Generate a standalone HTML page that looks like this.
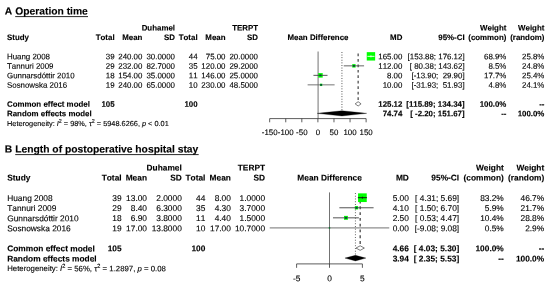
<!DOCTYPE html>
<html><head><meta charset="utf-8"><title>Forest plots</title>
<style>
html,body{margin:0;padding:0;background:#fff;}
svg{display:block;text-rendering:geometricPrecision;font-kerning:none;font-family:"Liberation Sans",sans-serif;fill:#000;}
text{stroke:#000;stroke-width:0.12px;}
</style></head>
<body>
<svg width="550" height="286" viewBox="0 0 550 286">
<rect width="550" height="286" fill="#fff"/>
<g font-size="7.9">
<text x="4.8" y="14.5" transform="rotate(0.03 4.8 14.5)" font-size="10.3" font-weight="bold" stroke="none">A</text>
<text x="15.2" y="14.5" transform="rotate(0.03 15.2 14.5)" font-size="10.3" font-weight="bold" stroke="none">Operation time</text>
<line x1="15.2" y1="16.6" x2="88.0" y2="16.6" stroke="#000" stroke-width="0.85"/>
<text x="175.0" y="30.5" transform="rotate(0.03 175.0 30.5)" text-anchor="end" font-weight="bold">Duhamel</text>
<text x="258" y="30.5" transform="rotate(0.03 258 30.5)" text-anchor="end" font-weight="bold">TERPT</text>
<text x="506.4" y="30.5" transform="rotate(0.03 506.4 30.5)" text-anchor="end" font-weight="bold">Weight</text>
<text x="544.4" y="30.5" transform="rotate(0.03 544.4 30.5)" text-anchor="end" font-weight="bold">Weight</text>
<text x="7" y="40.0" transform="rotate(0.03 7 40.0)" font-weight="bold">Study</text>
<text x="114.6" y="40.0" transform="rotate(0.03 114.6 40.0)" text-anchor="end" font-weight="bold">Total</text>
<text x="142.4" y="40.0" transform="rotate(0.03 142.4 40.0)" text-anchor="end" font-weight="bold">Mean</text>
<text x="175.0" y="40.0" transform="rotate(0.03 175.0 40.0)" text-anchor="end" font-weight="bold">SD</text>
<text x="197.6" y="40.0" transform="rotate(0.03 197.6 40.0)" text-anchor="end" font-weight="bold">Total</text>
<text x="225.5" y="40.0" transform="rotate(0.03 225.5 40.0)" text-anchor="end" font-weight="bold">Mean</text>
<text x="258" y="40.0" transform="rotate(0.03 258 40.0)" text-anchor="end" font-weight="bold">SD</text>
<text x="318" y="40.0" transform="rotate(0.03 318 40.0)" text-anchor="middle" font-weight="bold">Mean Difference</text>
<text x="402.4" y="40.0" transform="rotate(0.03 402.4 40.0)" text-anchor="end" font-weight="bold">MD</text>
<text x="464.6" y="40.0" transform="rotate(0.03 464.6 40.0)" text-anchor="end" font-weight="bold">95%-CI</text>
<text x="506.4" y="40.0" transform="rotate(0.03 506.4 40.0)" text-anchor="end" font-weight="bold">(common)</text>
<text x="544.4" y="40.0" transform="rotate(0.03 544.4 40.0)" text-anchor="end" font-weight="bold">(random)</text>
<text x="7" y="59.3" transform="rotate(0.03 7 59.3)">Huang 2008</text>
<text x="114.6" y="59.3" transform="rotate(0.03 114.6 59.3)" text-anchor="end" xml:space="preserve">39</text>
<text x="142.4" y="59.3" transform="rotate(0.03 142.4 59.3)" text-anchor="end" xml:space="preserve">240.00</text>
<text x="175.0" y="59.3" transform="rotate(0.03 175.0 59.3)" text-anchor="end" xml:space="preserve">30.0000</text>
<text x="197.6" y="59.3" transform="rotate(0.03 197.6 59.3)" text-anchor="end" xml:space="preserve">44</text>
<text x="225.5" y="59.3" transform="rotate(0.03 225.5 59.3)" text-anchor="end" xml:space="preserve"> 75.00</text>
<text x="258" y="59.3" transform="rotate(0.03 258 59.3)" text-anchor="end" xml:space="preserve">20.0000</text>
<text x="402.4" y="59.3" transform="rotate(0.03 402.4 59.3)" text-anchor="end" xml:space="preserve">165.00</text>
<text x="464.6" y="59.3" transform="rotate(0.03 464.6 59.3)" text-anchor="end" xml:space="preserve">[153.88; 176.12]</text>
<text x="506.4" y="59.3" transform="rotate(0.03 506.4 59.3)" text-anchor="end" xml:space="preserve">68.9%</text>
<text x="544.4" y="59.3" transform="rotate(0.03 544.4 59.3)" text-anchor="end" xml:space="preserve">25.8%</text>
<text x="7" y="68.8" transform="rotate(0.03 7 68.8)">Tannuri 2009</text>
<text x="114.6" y="68.8" transform="rotate(0.03 114.6 68.8)" text-anchor="end" xml:space="preserve">29</text>
<text x="142.4" y="68.8" transform="rotate(0.03 142.4 68.8)" text-anchor="end" xml:space="preserve">232.00</text>
<text x="175.0" y="68.8" transform="rotate(0.03 175.0 68.8)" text-anchor="end" xml:space="preserve">82.7000</text>
<text x="197.6" y="68.8" transform="rotate(0.03 197.6 68.8)" text-anchor="end" xml:space="preserve">35</text>
<text x="225.5" y="68.8" transform="rotate(0.03 225.5 68.8)" text-anchor="end" xml:space="preserve">120.00</text>
<text x="258" y="68.8" transform="rotate(0.03 258 68.8)" text-anchor="end" xml:space="preserve">29.2000</text>
<text x="402.4" y="68.8" transform="rotate(0.03 402.4 68.8)" text-anchor="end" xml:space="preserve">112.00</text>
<text x="464.6" y="68.8" transform="rotate(0.03 464.6 68.8)" text-anchor="end" xml:space="preserve">[ 80.38; 143.62]</text>
<text x="506.4" y="68.8" transform="rotate(0.03 506.4 68.8)" text-anchor="end" xml:space="preserve">8.5%</text>
<text x="544.4" y="68.8" transform="rotate(0.03 544.4 68.8)" text-anchor="end" xml:space="preserve">24.8%</text>
<text x="7" y="78.3" transform="rotate(0.03 7 78.3)">Gunnarsdóttir 2010</text>
<text x="114.6" y="78.3" transform="rotate(0.03 114.6 78.3)" text-anchor="end" xml:space="preserve">18</text>
<text x="142.4" y="78.3" transform="rotate(0.03 142.4 78.3)" text-anchor="end" xml:space="preserve">154.00</text>
<text x="175.0" y="78.3" transform="rotate(0.03 175.0 78.3)" text-anchor="end" xml:space="preserve">35.0000</text>
<text x="197.6" y="78.3" transform="rotate(0.03 197.6 78.3)" text-anchor="end" xml:space="preserve">11</text>
<text x="225.5" y="78.3" transform="rotate(0.03 225.5 78.3)" text-anchor="end" xml:space="preserve">146.00</text>
<text x="258" y="78.3" transform="rotate(0.03 258 78.3)" text-anchor="end" xml:space="preserve">25.0000</text>
<text x="402.4" y="78.3" transform="rotate(0.03 402.4 78.3)" text-anchor="end" xml:space="preserve">8.00</text>
<text x="464.6" y="78.3" transform="rotate(0.03 464.6 78.3)" text-anchor="end" xml:space="preserve">[-13.90;  29.90]</text>
<text x="506.4" y="78.3" transform="rotate(0.03 506.4 78.3)" text-anchor="end" xml:space="preserve">17.7%</text>
<text x="544.4" y="78.3" transform="rotate(0.03 544.4 78.3)" text-anchor="end" xml:space="preserve">25.4%</text>
<text x="7" y="87.8" transform="rotate(0.03 7 87.8)">Sosnowska 2016</text>
<text x="114.6" y="87.8" transform="rotate(0.03 114.6 87.8)" text-anchor="end" xml:space="preserve">19</text>
<text x="142.4" y="87.8" transform="rotate(0.03 142.4 87.8)" text-anchor="end" xml:space="preserve">240.00</text>
<text x="175.0" y="87.8" transform="rotate(0.03 175.0 87.8)" text-anchor="end" xml:space="preserve">65.0000</text>
<text x="197.6" y="87.8" transform="rotate(0.03 197.6 87.8)" text-anchor="end" xml:space="preserve">10</text>
<text x="225.5" y="87.8" transform="rotate(0.03 225.5 87.8)" text-anchor="end" xml:space="preserve">230.00</text>
<text x="258" y="87.8" transform="rotate(0.03 258 87.8)" text-anchor="end" xml:space="preserve">48.5000</text>
<text x="402.4" y="87.8" transform="rotate(0.03 402.4 87.8)" text-anchor="end" xml:space="preserve">10.00</text>
<text x="464.6" y="87.8" transform="rotate(0.03 464.6 87.8)" text-anchor="end" xml:space="preserve">[-31.93;  51.93]</text>
<text x="506.4" y="87.8" transform="rotate(0.03 506.4 87.8)" text-anchor="end" xml:space="preserve">4.8%</text>
<text x="544.4" y="87.8" transform="rotate(0.03 544.4 87.8)" text-anchor="end" xml:space="preserve">24.1%</text>
<text x="7" y="106.8" transform="rotate(0.03 7 106.8)" font-weight="bold">Common effect model</text>
<text x="114.6" y="106.8" transform="rotate(0.03 114.6 106.8)" text-anchor="end" font-weight="bold">105</text>
<text x="197.6" y="106.8" transform="rotate(0.03 197.6 106.8)" text-anchor="end" font-weight="bold">100</text>
<text x="402.4" y="106.8" transform="rotate(0.03 402.4 106.8)" text-anchor="end" font-weight="bold" xml:space="preserve">125.12</text>
<text x="464.6" y="106.8" transform="rotate(0.03 464.6 106.8)" text-anchor="end" font-weight="bold" xml:space="preserve">[115.89; 134.34]</text>
<text x="506.4" y="106.8" transform="rotate(0.03 506.4 106.8)" text-anchor="end" font-weight="bold" xml:space="preserve">100.0%</text>
<text x="544.4" y="106.8" transform="rotate(0.03 544.4 106.8)" text-anchor="end" font-weight="bold" xml:space="preserve">--</text>
<text x="7" y="116.3" transform="rotate(0.03 7 116.3)" font-weight="bold">Random effects model</text>
<text x="402.4" y="116.3" transform="rotate(0.03 402.4 116.3)" text-anchor="end" font-weight="bold" xml:space="preserve">74.74</text>
<text x="464.6" y="116.3" transform="rotate(0.03 464.6 116.3)" text-anchor="end" font-weight="bold" xml:space="preserve">[ -2.20; 151.67]</text>
<text x="506.4" y="116.3" transform="rotate(0.03 506.4 116.3)" text-anchor="end" font-weight="bold" xml:space="preserve">--</text>
<text x="544.4" y="116.3" transform="rotate(0.03 544.4 116.3)" text-anchor="end" font-weight="bold" xml:space="preserve">100.0%</text>
<text x="7" y="125.9" transform="rotate(0.03 7 125.9)" font-size="7.35" fill="#000">Heterogeneity: <tspan font-style="italic">I</tspan><tspan dy="-3.09" font-size="5.29">2</tspan><tspan dy="3.09"> = 98%, τ</tspan><tspan dy="-3.09" font-size="5.29">2</tspan><tspan dy="3.09"> = 5948.6266, </tspan><tspan font-style="italic">p</tspan> &lt; 0.01</text>
<line x1="318.09999999999997" y1="51.5" x2="318.09999999999997" y2="118.6" stroke="#8a8a8a" stroke-width="1.2"/>
<line x1="341.93" y1="52.0" x2="341.93" y2="113.35" stroke="#333" stroke-width="0.9" stroke-dasharray="0.9 1.7"/>
<line x1="358.13" y1="53.5" x2="358.13" y2="103.85" stroke="#333" stroke-width="1.1" stroke-dasharray="2.73 2.73"/>
<rect x="366.75" y="52.15" width="8.4" height="8.4" fill="#00ff00"/>
<line x1="367.37" y1="56.35" x2="374.52" y2="56.35" stroke="#fff" stroke-width="0.9"/>
<line x1="370.95" y1="55.25" x2="370.95" y2="57.45" stroke="#fff" stroke-width="0.7"/>
<rect x="352.21" y="64.15" width="3.4" height="3.4" fill="#00ff00"/>
<line x1="343.74" y1="65.85" x2="364.07" y2="65.85" stroke="#555" stroke-width="0.9"/>
<rect x="352.96" y="64.9" width="1.9" height="1.9" fill="#053"/>
<rect x="318.22" y="73.1" width="4.5" height="4.5" fill="#00ff00"/>
<line x1="313.43" y1="75.35" x2="327.51" y2="75.35" stroke="#444" stroke-width="0.9"/>
<rect x="319.52" y="74.4" width="1.9" height="1.9" fill="#053"/>
<rect x="319.91" y="83.65" width="2.4" height="2.4" fill="#00ff00"/>
<line x1="307.63" y1="84.85" x2="334.6" y2="84.85" stroke="#666" stroke-width="0.9"/>
<rect x="320.26" y="84.0" width="1.7" height="1.7" fill="#053"/>
<polygon points="355.16,103.85 358.13,101.7 361.09,103.85 358.13,106.0" fill="#fff" stroke="#444" stroke-width="0.7"/>
<polygon points="317.19,113.35 341.93,110.75 366.66,113.35 341.93,115.95" fill="#000" stroke="#000" stroke-width="0.3"/>
<line x1="269.67" y1="118.6" x2="366.12" y2="118.6" stroke="#333" stroke-width="0.8"/>
<line x1="269.67" y1="118.6" x2="269.67" y2="122.3" stroke="#333" stroke-width="0.8"/>
<line x1="285.75" y1="118.6" x2="285.75" y2="122.3" stroke="#333" stroke-width="0.8"/>
<line x1="301.82" y1="118.6" x2="301.82" y2="122.3" stroke="#333" stroke-width="0.8"/>
<line x1="317.9" y1="118.6" x2="317.9" y2="122.3" stroke="#333" stroke-width="0.8"/>
<line x1="333.97" y1="118.6" x2="333.97" y2="122.3" stroke="#333" stroke-width="0.8"/>
<line x1="350.05" y1="118.6" x2="350.05" y2="122.3" stroke="#333" stroke-width="0.8"/>
<line x1="366.12" y1="118.6" x2="366.12" y2="122.3" stroke="#333" stroke-width="0.8"/>
<text x="269.67" y="135.1" transform="rotate(0.03 269.67 135.1)" text-anchor="middle">-150</text>
<text x="285.75" y="135.1" transform="rotate(0.03 285.75 135.1)" text-anchor="middle">-100</text>
<text x="301.82" y="135.1" transform="rotate(0.03 301.82 135.1)" text-anchor="middle">-50</text>
<text x="317.9" y="135.1" transform="rotate(0.03 317.9 135.1)" text-anchor="middle">0</text>
<text x="333.97" y="135.1" transform="rotate(0.03 333.97 135.1)" text-anchor="middle">50</text>
<text x="350.05" y="135.1" transform="rotate(0.03 350.05 135.1)" text-anchor="middle">100</text>
<text x="366.12" y="135.1" transform="rotate(0.03 366.12 135.1)" text-anchor="middle">150</text>
</g>
<g font-size="8.36">
<text x="4.8" y="152.5" transform="rotate(0.03 4.8 152.5)" font-size="10.3" font-weight="bold" stroke="none">B</text>
<text x="15.2" y="152.5" transform="rotate(0.03 15.2 152.5)" font-size="10.3" font-weight="bold" stroke="none">Length of postoperative hospital stay</text>
<line x1="15.2" y1="154.6" x2="198.7" y2="154.6" stroke="#000" stroke-width="0.85"/>
<text x="181.8" y="170.5" transform="rotate(0.03 181.8 170.5)" text-anchor="end" font-weight="bold">Duhamel</text>
<text x="265.1" y="170.5" transform="rotate(0.03 265.1 170.5)" text-anchor="end" font-weight="bold">TERPT</text>
<text x="503.8" y="170.5" transform="rotate(0.03 503.8 170.5)" text-anchor="end" font-weight="bold">Weight</text>
<text x="544.2" y="170.5" transform="rotate(0.03 544.2 170.5)" text-anchor="end" font-weight="bold">Weight</text>
<text x="7.2" y="180.6" transform="rotate(0.03 7.2 180.6)" font-weight="bold">Study</text>
<text x="121.6" y="180.6" transform="rotate(0.03 121.6 180.6)" text-anchor="end" font-weight="bold">Total</text>
<text x="147.0" y="180.6" transform="rotate(0.03 147.0 180.6)" text-anchor="end" font-weight="bold">Mean</text>
<text x="181.8" y="180.6" transform="rotate(0.03 181.8 180.6)" text-anchor="end" font-weight="bold">SD</text>
<text x="205.4" y="180.6" transform="rotate(0.03 205.4 180.6)" text-anchor="end" font-weight="bold">Total</text>
<text x="230.9" y="180.6" transform="rotate(0.03 230.9 180.6)" text-anchor="end" font-weight="bold">Mean</text>
<text x="265.1" y="180.6" transform="rotate(0.03 265.1 180.6)" text-anchor="end" font-weight="bold">SD</text>
<text x="329.6" y="180.6" transform="rotate(0.03 329.6 180.6)" text-anchor="middle" font-weight="bold">Mean Difference</text>
<text x="408.9" y="180.6" transform="rotate(0.03 408.9 180.6)" text-anchor="end" font-weight="bold">MD</text>
<text x="459.2" y="180.6" transform="rotate(0.03 459.2 180.6)" text-anchor="end" font-weight="bold">95%-CI</text>
<text x="503.8" y="180.6" transform="rotate(0.03 503.8 180.6)" text-anchor="end" font-weight="bold">(common)</text>
<text x="544.2" y="180.6" transform="rotate(0.03 544.2 180.6)" text-anchor="end" font-weight="bold">(random)</text>
<text x="7.2" y="201.0" transform="rotate(0.03 7.2 201.0)">Huang 2008</text>
<text x="121.6" y="201.0" transform="rotate(0.03 121.6 201.0)" text-anchor="end" xml:space="preserve">39</text>
<text x="147.0" y="201.0" transform="rotate(0.03 147.0 201.0)" text-anchor="end" xml:space="preserve">13.00</text>
<text x="181.8" y="201.0" transform="rotate(0.03 181.8 201.0)" text-anchor="end" xml:space="preserve">2.0000</text>
<text x="205.4" y="201.0" transform="rotate(0.03 205.4 201.0)" text-anchor="end" xml:space="preserve">44</text>
<text x="230.9" y="201.0" transform="rotate(0.03 230.9 201.0)" text-anchor="end" xml:space="preserve">8.00</text>
<text x="265.1" y="201.0" transform="rotate(0.03 265.1 201.0)" text-anchor="end" xml:space="preserve">1.0000</text>
<text x="408.9" y="201.0" transform="rotate(0.03 408.9 201.0)" text-anchor="end" xml:space="preserve">5.00</text>
<text x="459.2" y="201.0" transform="rotate(0.03 459.2 201.0)" text-anchor="end" xml:space="preserve">[ 4.31; 5.69]</text>
<text x="503.8" y="201.0" transform="rotate(0.03 503.8 201.0)" text-anchor="end" xml:space="preserve">83.2%</text>
<text x="544.2" y="201.0" transform="rotate(0.03 544.2 201.0)" text-anchor="end" xml:space="preserve">46.7%</text>
<text x="7.2" y="211.07" transform="rotate(0.03 7.2 211.07)">Tannuri 2009</text>
<text x="121.6" y="211.07" transform="rotate(0.03 121.6 211.07)" text-anchor="end" xml:space="preserve">29</text>
<text x="147.0" y="211.07" transform="rotate(0.03 147.0 211.07)" text-anchor="end" xml:space="preserve">8.40</text>
<text x="181.8" y="211.07" transform="rotate(0.03 181.8 211.07)" text-anchor="end" xml:space="preserve">6.3000</text>
<text x="205.4" y="211.07" transform="rotate(0.03 205.4 211.07)" text-anchor="end" xml:space="preserve">35</text>
<text x="230.9" y="211.07" transform="rotate(0.03 230.9 211.07)" text-anchor="end" xml:space="preserve">4.30</text>
<text x="265.1" y="211.07" transform="rotate(0.03 265.1 211.07)" text-anchor="end" xml:space="preserve">3.7000</text>
<text x="408.9" y="211.07" transform="rotate(0.03 408.9 211.07)" text-anchor="end" xml:space="preserve">4.10</text>
<text x="459.2" y="211.07" transform="rotate(0.03 459.2 211.07)" text-anchor="end" xml:space="preserve">[ 1.50; 6.70]</text>
<text x="503.8" y="211.07" transform="rotate(0.03 503.8 211.07)" text-anchor="end" xml:space="preserve">5.9%</text>
<text x="544.2" y="211.07" transform="rotate(0.03 544.2 211.07)" text-anchor="end" xml:space="preserve">21.7%</text>
<text x="7.2" y="221.14" transform="rotate(0.03 7.2 221.14)">Gunnarsdóttir 2010</text>
<text x="121.6" y="221.14" transform="rotate(0.03 121.6 221.14)" text-anchor="end" xml:space="preserve">18</text>
<text x="147.0" y="221.14" transform="rotate(0.03 147.0 221.14)" text-anchor="end" xml:space="preserve">6.90</text>
<text x="181.8" y="221.14" transform="rotate(0.03 181.8 221.14)" text-anchor="end" xml:space="preserve">3.8000</text>
<text x="205.4" y="221.14" transform="rotate(0.03 205.4 221.14)" text-anchor="end" xml:space="preserve">11</text>
<text x="230.9" y="221.14" transform="rotate(0.03 230.9 221.14)" text-anchor="end" xml:space="preserve">4.40</text>
<text x="265.1" y="221.14" transform="rotate(0.03 265.1 221.14)" text-anchor="end" xml:space="preserve">1.5000</text>
<text x="408.9" y="221.14" transform="rotate(0.03 408.9 221.14)" text-anchor="end" xml:space="preserve">2.50</text>
<text x="459.2" y="221.14" transform="rotate(0.03 459.2 221.14)" text-anchor="end" xml:space="preserve">[ 0.53; 4.47]</text>
<text x="503.8" y="221.14" transform="rotate(0.03 503.8 221.14)" text-anchor="end" xml:space="preserve">10.4%</text>
<text x="544.2" y="221.14" transform="rotate(0.03 544.2 221.14)" text-anchor="end" xml:space="preserve">28.8%</text>
<text x="7.2" y="231.21" transform="rotate(0.03 7.2 231.21)">Sosnowska 2016</text>
<text x="121.6" y="231.21" transform="rotate(0.03 121.6 231.21)" text-anchor="end" xml:space="preserve">19</text>
<text x="147.0" y="231.21" transform="rotate(0.03 147.0 231.21)" text-anchor="end" xml:space="preserve">17.00</text>
<text x="181.8" y="231.21" transform="rotate(0.03 181.8 231.21)" text-anchor="end" xml:space="preserve">13.8000</text>
<text x="205.4" y="231.21" transform="rotate(0.03 205.4 231.21)" text-anchor="end" xml:space="preserve">10</text>
<text x="230.9" y="231.21" transform="rotate(0.03 230.9 231.21)" text-anchor="end" xml:space="preserve">17.00</text>
<text x="265.1" y="231.21" transform="rotate(0.03 265.1 231.21)" text-anchor="end" xml:space="preserve">10.7000</text>
<text x="408.9" y="231.21" transform="rotate(0.03 408.9 231.21)" text-anchor="end" xml:space="preserve">0.00</text>
<text x="459.2" y="231.21" transform="rotate(0.03 459.2 231.21)" text-anchor="end" xml:space="preserve">[-9.08; 9.08]</text>
<text x="503.8" y="231.21" transform="rotate(0.03 503.8 231.21)" text-anchor="end" xml:space="preserve">0.5%</text>
<text x="544.2" y="231.21" transform="rotate(0.03 544.2 231.21)" text-anchor="end" xml:space="preserve">2.9%</text>
<text x="7.2" y="251.35" transform="rotate(0.03 7.2 251.35)" font-weight="bold">Common effect model</text>
<text x="121.6" y="251.35" transform="rotate(0.03 121.6 251.35)" text-anchor="end" font-weight="bold">105</text>
<text x="205.4" y="251.35" transform="rotate(0.03 205.4 251.35)" text-anchor="end" font-weight="bold">100</text>
<text x="408.9" y="251.35" transform="rotate(0.03 408.9 251.35)" text-anchor="end" font-weight="bold" xml:space="preserve">4.66</text>
<text x="459.2" y="251.35" transform="rotate(0.03 459.2 251.35)" text-anchor="end" font-weight="bold" xml:space="preserve">[ 4.03; 5.30]</text>
<text x="503.8" y="251.35" transform="rotate(0.03 503.8 251.35)" text-anchor="end" font-weight="bold" xml:space="preserve">100.0%</text>
<text x="544.2" y="251.35" transform="rotate(0.03 544.2 251.35)" text-anchor="end" font-weight="bold" xml:space="preserve">--</text>
<text x="7.2" y="261.42" transform="rotate(0.03 7.2 261.42)" font-weight="bold">Random effects model</text>
<text x="408.9" y="261.42" transform="rotate(0.03 408.9 261.42)" text-anchor="end" font-weight="bold" xml:space="preserve">3.94</text>
<text x="459.2" y="261.42" transform="rotate(0.03 459.2 261.42)" text-anchor="end" font-weight="bold" xml:space="preserve">[ 2.35; 5.53]</text>
<text x="503.8" y="261.42" transform="rotate(0.03 503.8 261.42)" text-anchor="end" font-weight="bold" xml:space="preserve">--</text>
<text x="544.2" y="261.42" transform="rotate(0.03 544.2 261.42)" text-anchor="end" font-weight="bold" xml:space="preserve">100.0%</text>
<text x="7.2" y="271.1" transform="rotate(0.03 7.2 271.1)" font-size="7.8" fill="#000">Heterogeneity: <tspan font-style="italic">I</tspan><tspan dy="-3.28" font-size="5.62">2</tspan><tspan dy="3.28"> = 56%, τ</tspan><tspan dy="-3.28" font-size="5.62">2</tspan><tspan dy="3.28"> = 1.2897, </tspan><tspan font-style="italic">p</tspan> = 0.08</text>
<line x1="329.5" y1="192.4" x2="329.5" y2="263.9" stroke="#444" stroke-width="0.75"/>
<line x1="355.43" y1="193.0" x2="355.43" y2="258.12" stroke="#333" stroke-width="0.8" stroke-dasharray="0.95 1.8"/>
<line x1="360.16" y1="194.8" x2="360.16" y2="248.05" stroke="#333" stroke-width="1.17" stroke-dasharray="2.89 2.89"/>
<rect x="358.05" y="193.35" width="8.7" height="8.7" fill="#00ff00"/>
<line x1="357.86" y1="197.7" x2="366.94" y2="197.7" stroke="#111" stroke-width="0.95"/>
<line x1="362.4" y1="196.6" x2="362.4" y2="198.8" stroke="#111" stroke-width="0.7"/>
<rect x="354.83" y="206.12" width="3.3" height="3.3" fill="#00ff00"/>
<line x1="339.37" y1="207.77" x2="373.59" y2="207.77" stroke="#4a4a4a" stroke-width="0.95"/>
<rect x="355.48" y="206.77" width="2.0" height="2.0" fill="#053"/>
<rect x="344.0" y="215.89" width="3.9" height="3.9" fill="#00ff00"/>
<line x1="332.99" y1="217.84" x2="358.91" y2="217.84" stroke="#4a4a4a" stroke-width="0.95"/>
<rect x="344.95" y="216.84" width="2.0" height="2.0" fill="#053"/>
<rect x="328.85" y="227.26" width="1.3" height="1.3" fill="#00ff00"/>
<line x1="269.75" y1="227.91" x2="389.25" y2="227.91" stroke="#6a6a6a" stroke-width="0.95"/>
<rect x="328.85" y="227.26" width="1.3" height="1.3" fill="#053"/>
<polygon points="356.02,248.05 360.16,245.77 364.37,248.05 360.16,250.33" fill="#fff" stroke="#444" stroke-width="0.7"/>
<polygon points="344.96,258.12 355.43,255.36 365.89,258.12 355.43,260.88" fill="#000" stroke="#000" stroke-width="0.3"/>
<line x1="296.6" y1="263.9" x2="362.4" y2="263.9" stroke="#333" stroke-width="0.8"/>
<line x1="296.6" y1="263.9" x2="296.6" y2="267.82" stroke="#333" stroke-width="0.8"/>
<line x1="329.5" y1="263.9" x2="329.5" y2="267.82" stroke="#333" stroke-width="0.8"/>
<line x1="362.4" y1="263.9" x2="362.4" y2="267.82" stroke="#333" stroke-width="0.8"/>
<text x="296.6" y="281.2" transform="rotate(0.03 296.6 281.2)" text-anchor="middle">-5</text>
<text x="329.5" y="281.2" transform="rotate(0.03 329.5 281.2)" text-anchor="middle">0</text>
<text x="362.4" y="281.2" transform="rotate(0.03 362.4 281.2)" text-anchor="middle">5</text>
</g>
</svg>
</body></html>
